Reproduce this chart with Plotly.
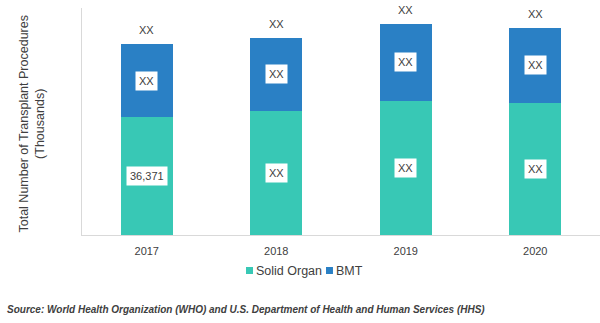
import plotly.graph_objects as go

# Transplant procedures by year (values in procedures)
years = ["2017", "2018", "2019", "2020"]
solid_organ = [36371, 38300, 41400, 40800]
bmt = [22400, 22600, 23700, 23100]
solid_labels = ["36,371", "XX", "XX", "XX"]
bmt_labels = ["XX", "XX", "XX", "XX"]
total_labels = ["XX", "XX", "XX", "XX"]
series_names = ["Solid Organ", "BMT"]

TEAL = "#38C8B5"
BLUE = "#2A80C5"
TEXT = "#404040"
FONT = "Liberation Sans, Arial, sans-serif"

fig = go.Figure()
fig.add_trace(go.Bar(x=years, y=solid_organ, name=series_names[0],
                     marker=dict(color=TEAL, line=dict(width=0))))
fig.add_trace(go.Bar(x=years, y=bmt, name=series_names[1],
                     marker=dict(color=BLUE, line=dict(width=0))))

annotations = []
for i, (s, b, sl, bl, tl) in enumerate(zip(solid_organ, bmt, solid_labels,
                                           bmt_labels, total_labels)):
    # boxed labels centred in each segment (x given as category index)
    annotations.append(dict(x=i, y=s / 2, text=sl, showarrow=False,
                            bgcolor="white", borderpad=3,
                            font=dict(size=11, color=TEXT, family=FONT)))
    annotations.append(dict(x=i, y=s + b / 2, text=bl, showarrow=False,
                            bgcolor="white", borderpad=3,
                            font=dict(size=11, color=TEXT, family=FONT)))
    # total above each stack
    annotations.append(dict(x=i, y=s + b, text=tl, showarrow=False,
                            yanchor="bottom", yshift=6,
                            font=dict(size=11, color=TEXT, family=FONT)))

annotations.append(dict(xref="paper", yref="paper", x=-0.097, y=0.49,
                        text="Total Number of Transplant Procedures<br>(Thousands)",
                        textangle=-90, showarrow=False,
                        xanchor="center", yanchor="middle",
                        font=dict(size=12.5, color=TEXT, family=FONT)))
annotations.append(dict(xref="paper", yref="paper", x=-0.149, y=-0.33,
                        xanchor="left", yanchor="middle", showarrow=False,
                        text="<b><i>Source: World Health Organization (WHO) and U.S. Department of Health and Human Services (HHS)</i></b>",
                        font=dict(size=10, color=TEXT, family=FONT)))

# compact legend: small colour square directly followed by its label
shapes = []
legend_items = [(series_names[0], TEAL, 0.3166), (series_names[1], BLUE, 0.471)]
for name, color, x0 in legend_items:
    shapes.append(dict(type="rect", xref="paper", yref="paper",
                       x0=x0, x1=x0 + 0.0135, y0=-0.1718, y1=-0.141,
                       fillcolor=color, line=dict(width=0)))
    annotations.append(dict(xref="paper", yref="paper", x=x0 + 0.0155,
                            y=-0.1564, xanchor="left", yanchor="middle",
                            showarrow=False, text=name,
                            font=dict(size=12.5, color=TEXT, family=FONT)))

fig.update_layout(
    barmode="stack",
    bargap=0.6,
    width=600, height=323,
    margin=dict(l=82, r=0, t=8, b=88),
    paper_bgcolor="white", plot_bgcolor="white",
    font=dict(family=FONT, color=TEXT, size=11),
    showlegend=False,
    annotations=annotations,
    shapes=shapes,
    xaxis=dict(type="category", range=[-0.5, len(years) - 0.5],
               showline=True, linecolor="#D9D9D9",
               linewidth=1, ticks="", tickfont=dict(size=11, color=TEXT),
               ticklabelstandoff=6, showgrid=False),
    yaxis=dict(range=[0, 70000], showline=True, linecolor="#D9D9D9",
               linewidth=1, showticklabels=False, ticks="",
               showgrid=False, zeroline=False),
)

fig.write_html("out.html")
